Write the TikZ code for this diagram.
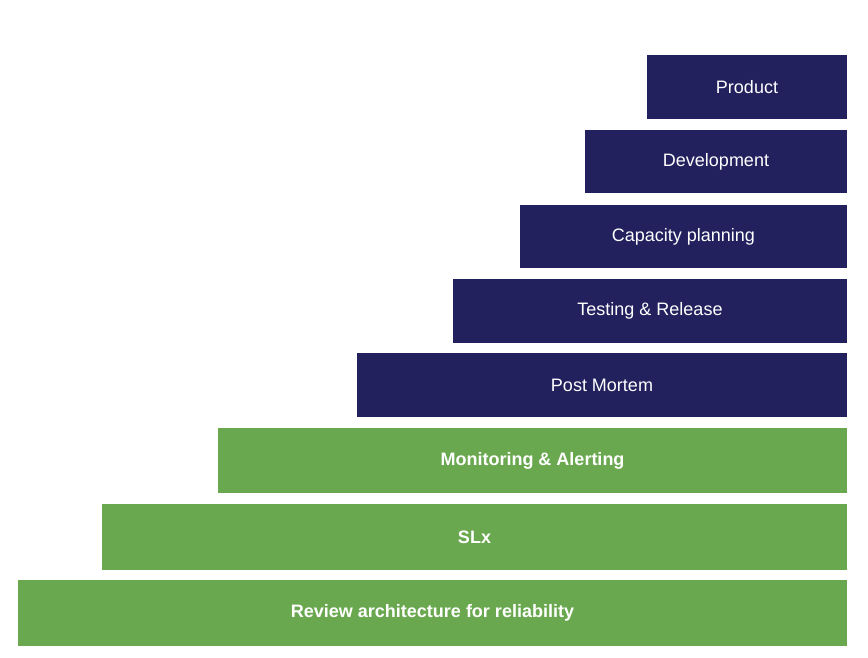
\documentclass[tikz,border=0pt]{standalone}
\usepackage{fontspec}
\setmainfont{Liberation Sans}
\definecolor{navy}{HTML}{22215E}
\definecolor{grn}{HTML}{6AA84F}
\begin{document}
\begin{tikzpicture}[x=1pt,y=-1pt,
  bar/.style={fill=navy,text=white,font=\fontsize{18}{20}\selectfont},
  gbar/.style={fill=grn,text=white,font=\bfseries\fontsize{18}{20}\selectfont}]
\useasboundingbox (0,0) rectangle (868,658);
\foreach \n/\x/\t/\b/\s/\txt in {
  p/647/55/119/bar/Product,
  d/585/130/193/bar/Development,
  c/520/205/268/bar/Capacity planning,
  t/453/279/343/bar/Testing \& Release,
  m/357/353/417/bar/Post Mortem/RCA,
  a/218/428/493/gbar/Monitoring \& Alerting,
  s/102/504/570/gbar/SLx,
  r/18/580/646/gbar/Review architecture for reliability}{
  \path[\s] (\x,\t) rectangle (847,\b);
  \node[\s,fill=none,inner sep=0] (\n) at ({(\x+847)/2},{(\t+\b)/2}) {\txt};
}
\end{tikzpicture}
\end{document}
